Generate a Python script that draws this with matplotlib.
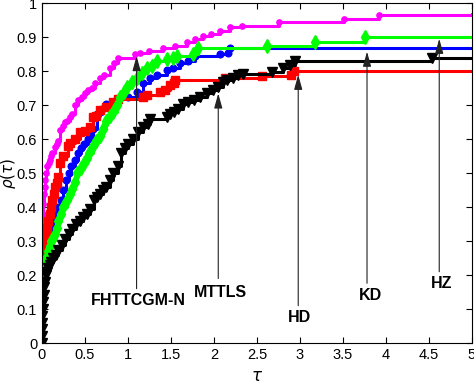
import matplotlib
matplotlib.use("Agg")
import matplotlib.pyplot as plt

plt.rcParams['font.family'] = ['Liberation Sans', 'DejaVu Sans']

# performance profile data (tau, rho) step points
tau_fhttcgm = [0, 0, 0.005, 0.01, 0.015, 0.02, 0.03, 0.04, 0.05, 0.06, 0.08, 0.093, 0.105,
               0.12, 0.15, 0.17, 0.19, 0.21, 0.24, 0.27, 0.29, 0.32, 0.35, 0.38, 0.42, 0.46,
               0.5, 0.54, 0.58, 0.62, 0.67, 0.72, 0.79, 0.84, 0.88, 1.08, 1.14, 1.25, 1.41,
               1.55, 1.69, 1.78, 1.87, 1.97, 2.07, 2.19, 2.33, 2.76, 3.51, 3.92, 5.0]
rho_fhttcgm = [0.27, 0.31, 0.35, 0.38, 0.41, 0.44, 0.46, 0.48, 0.50, 0.52, 0.53, 0.54, 0.55,
               0.56, 0.576, 0.585, 0.595, 0.626, 0.64, 0.65, 0.655, 0.665, 0.675, 0.70, 0.715,
               0.725, 0.735, 0.745, 0.75, 0.765, 0.78, 0.79, 0.81, 0.825, 0.84, 0.85, 0.853,
               0.86, 0.87, 0.875, 0.885, 0.895, 0.905, 0.91, 0.92, 0.93, 0.935, 0.945, 0.955,
               0.965, 0.97]

tau_hd = [0, 0.005, 0.01, 0.02, 0.03, 0.04, 0.05, 0.06, 0.075, 0.09, 0.105, 0.12, 0.135, 0.15,
          0.17, 0.19, 0.21, 0.25, 0.3, 0.33, 0.38, 0.44, 0.5, 0.56, 0.59, 0.63, 0.67, 0.75,
          0.83, 0.88, 1.18, 1.22, 1.37, 1.43, 1.49, 1.53, 1.55, 2.13, 2.56, 2.9, 2.93, 5.0]
rho_hd = [0.20, 0.22, 0.24, 0.26, 0.28, 0.30, 0.32, 0.34, 0.36, 0.38, 0.40, 0.42, 0.44, 0.46,
          0.47, 0.49, 0.53, 0.55, 0.58, 0.59, 0.60, 0.62, 0.625, 0.635, 0.665, 0.67, 0.685,
          0.695, 0.71, 0.72, 0.725, 0.73, 0.74, 0.745, 0.76, 0.765, 0.775, 0.78, 0.785, 0.79,
          0.80, 0.80]

tau_kd = [0.0, 0.01, 0.02, 0.03, 0.04, 0.05, 0.06, 0.08, 0.1, 0.12, 0.14, 0.16, 0.19, 0.22,
          0.25, 0.28, 0.31, 0.34, 0.38, 0.42, 0.45, 0.49, 0.53, 0.56, 0.59, 0.64, 0.7, 0.75,
          0.81, 0.87, 1.0, 1.1, 1.18, 1.26, 1.34, 1.45, 1.52, 1.6, 1.7, 1.78, 2.07, 2.16,
          2.19, 5.0]
rho_kd = [0.17, 0.19, 0.21, 0.23, 0.25, 0.27, 0.29, 0.31, 0.33, 0.35, 0.365, 0.38, 0.40, 0.42,
          0.45, 0.48, 0.50, 0.52, 0.54, 0.56, 0.575, 0.585, 0.60, 0.61, 0.63, 0.675, 0.69,
          0.705, 0.71, 0.72, 0.725, 0.74, 0.765, 0.78, 0.79, 0.805, 0.81, 0.825, 0.83, 0.845,
          0.85, 0.855, 0.87, 0.87]

tau_hz = [0, 0.01, 0.02, 0.03, 0.05, 0.07, 0.09, 0.11, 0.13, 0.15, 0.17, 0.19, 0.22, 0.25,
          0.29, 0.32, 0.35, 0.38, 0.41, 0.45, 0.49, 0.52, 0.55, 0.59, 0.63, 0.67, 0.71, 0.75,
          0.79, 0.83, 0.87, 0.91, 0.95, 0.99, 1.05, 1.1, 1.16, 1.22, 1.28, 1.34, 1.45, 1.52,
          1.57, 1.76, 1.81, 2.62, 3.17, 3.76, 5.0]
rho_hz = [0.17, 0.19, 0.21, 0.23, 0.25, 0.27, 0.285, 0.30, 0.31, 0.32, 0.34, 0.36, 0.38,
          0.40, 0.42, 0.44, 0.455, 0.475, 0.50, 0.515, 0.53, 0.545, 0.56, 0.58, 0.595, 0.61,
          0.63, 0.655, 0.67, 0.68, 0.70, 0.725, 0.74, 0.755, 0.77, 0.78, 0.795, 0.81, 0.815,
          0.83, 0.835, 0.84, 0.845, 0.85, 0.87, 0.875, 0.885, 0.90, 0.90]

tau_mttls = [0, 0, 0, 0, 0.005, 0.01, 0.015, 0.02, 0.025, 0.035, 0.045, 0.06, 0.075, 0.09,
             0.105, 0.13, 0.16, 0.19, 0.23, 0.27, 0.31, 0.35, 0.4, 0.44, 0.48, 0.52, 0.56,
             0.6, 0.64, 0.68, 0.71, 0.75, 0.79, 0.83, 0.88, 0.92, 0.96, 1.0, 1.06, 1.12, 1.17,
             1.23, 1.26, 1.45, 1.49, 1.53, 1.58, 1.64, 1.7, 1.77, 1.84, 1.92, 1.99, 2.05, 2.1,
             2.15, 2.22, 2.28, 2.34, 2.67, 2.8, 2.88, 2.94, 4.53, 5.0]
rho_mttls = [0.0, 0.02, 0.04, 0.06, 0.08, 0.10, 0.12, 0.14, 0.165, 0.18, 0.20, 0.21, 0.22,
             0.23, 0.24, 0.25, 0.26, 0.275, 0.29, 0.305, 0.32, 0.335, 0.35, 0.36, 0.37, 0.38,
             0.395, 0.42, 0.43, 0.44, 0.45, 0.46, 0.48, 0.50, 0.52, 0.56, 0.575, 0.585, 0.60,
             0.62, 0.635, 0.645, 0.66, 0.665, 0.675, 0.68, 0.69, 0.705, 0.71, 0.715, 0.725,
             0.735, 0.745, 0.755, 0.77, 0.775, 0.78, 0.79, 0.792, 0.797, 0.81, 0.82, 0.83,
             0.84, 0.84]

# arrow annotations: label, text position, arrow tail, arrow tip
labels = ['FHTTCGM-N', 'MTTLS', 'HD', 'KD', 'HZ']
label_pos = [(1.12, 0.124), (2.07, 0.15), (3.0, 0.076), (3.82, 0.14), (4.65, 0.176)]
arrow_tail = [(1.1, 0.16), (2.05, 0.19), (2.98, 0.11), (3.78, 0.176), (4.62, 0.21)]
arrow_tip = [(1.1, 0.845), (2.05, 0.735), (2.98, 0.79), (3.78, 0.858), (4.62, 0.896)]

fig = plt.figure(figsize=(4.74, 3.82), dpi=100)
ax = fig.add_axes([0.0886, 0.102, 0.907, 0.889])

series = [
    (tau_fhttcgm, rho_fhttcgm, '#ff00ff', 'o', 3.8),
    (tau_kd, rho_kd, '#0000ff', 'o', 4.8),
    (tau_hd, rho_hd, '#ff0000', 's', 6.3),
    (tau_hz, rho_hz, '#00ff00', 'd', 7),
    (tau_mttls, rho_mttls, '#000000', 'v', 7.5),
]
for t, r, c, m, ms in series:
    ax.step(t, r, where='post', color=c, lw=2.2, marker=m, markersize=ms,
            markevery=slice(0, len(t) - 1))

for lab, tp, tail, tip in zip(labels, label_pos, arrow_tail, arrow_tip):
    ax.annotate('', xy=tip, xytext=tail,
                arrowprops=dict(arrowstyle='-|>,head_length=0.9,head_width=0.25',
                                color='#222222', lw=0.8, shrinkA=0, shrinkB=0))
    ax.text(tp[0], tp[1], lab, ha='center', va='center', fontsize=11.5,
            fontweight='bold')

ax.set_xlim(0, 5)
ax.set_ylim(0, 1)
ax.set_xticks([i * 0.5 for i in range(11)])
ax.set_xticklabels(['0', '0.5', '1', '1.5', '2', '2.5', '3', '3.5', '4', '4.5', '5'])
ax.set_yticks([i * 0.1 for i in range(11)])
ax.set_yticklabels(['0', '0.1', '0.2', '0.3', '0.4', '0.5', '0.6', '0.7', '0.8', '0.9', '1'])
ax.tick_params(direction='in', top=True, right=True, labelsize=10.5, length=4)
ax.set_xlabel(r'$\tau$', fontsize=12)
ax.set_ylabel(r'$\rho(\tau)$', fontsize=11)
ax.xaxis.set_label_coords(0.5, -0.075)
ax.yaxis.set_label_coords(-0.055, 0.5)

fig.savefig('out.png', dpi=100)
